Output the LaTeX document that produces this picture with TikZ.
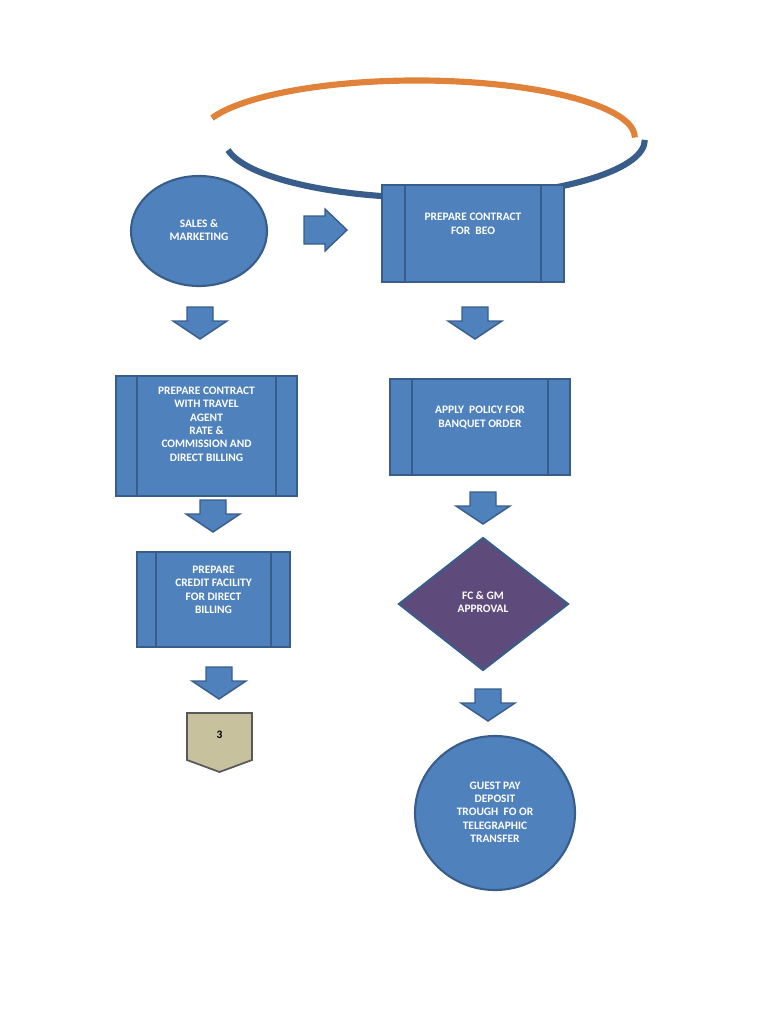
\documentclass[tikz,border=0pt]{standalone}
\usepackage{fontspec}
\setmainfont{Carlito}
\usetikzlibrary{shapes.geometric}
\definecolor{boxblue}{HTML}{4F81BD}
\definecolor{edgeblue}{HTML}{385D8A}
\definecolor{purp}{HTML}{5F4B7B}
\definecolor{tan}{HTML}{C7C19D}
\definecolor{orng}{HTML}{E0823A}
\begin{document}
\begin{tikzpicture}[x=0.02cm,y=-0.02cm]
  \tikzset{
    txt/.style={text=white,font=\fontsize{6.5}{7.6}\selectfont\bfseries,align=center},
    pp/.style={draw=edgeblue,line width=1.2pt,fill=boxblue},
    darr/.style={draw=edgeblue,line width=0.8pt,fill=boxblue},
  }
  \useasboundingbox (0,0) rectangle (768,1024);
  % decorative loop at top
  \begin{scope}
    \clip (150,60) rectangle (650,200);
    \draw[edgeblue,line width=3.5pt] (228,150) arc[start angle=190,end angle=360,x radius=210,y radius=-58];
    \draw[orng,line width=3.5pt] (212,118) arc[start angle=200,end angle=360,x radius=218,y radius=57];
  \end{scope}
  % predefined process boxes
  \newcommand{\ppbox}[6]{%
    \draw[pp] (#1,#2) rectangle (#3,#4);
    \draw[edgeblue,line width=1.2pt] (#1+#5,#2) -- (#1+#5,#4) (#3-#5,#2) -- (#3-#5,#4);
    \node[txt] at ({(#1+#3)/2},{#2+(#4-#2)*0.4}) {#6};}
  \newcommand{\downarr}[2]{%
    \draw[darr] (#1-13,#2) -- (#1+13,#2) -- (#1+13,#2+14) -- (#1+27,#2+14) -- (#1,#2+32)
      -- (#1-27,#2+14) -- (#1-13,#2+14) -- cycle;}
  \draw[pp] (199,231) ellipse (68 and 55);
  \node[txt] (sales) at (199,230) {SALES \&\\MARKETING};
  \draw[darr] (304,216) -- (325,216) -- (325,209) -- (347,230) -- (325,251) -- (325,244) -- (304,244) -- cycle;
  \ppbox{382}{185}{564}{282}{23}{PREPARE CONTRACT\\FOR\ \ BEO}
  \downarr{200}{307}
  \downarr{475}{307}
  \ppbox{116}{376}{297}{496}{21}{PREPARE CONTRACT\\WITH TRAVEL\\AGENT\\RATE \&\\COMMISSION AND\\DIRECT BILLING}
  \ppbox{390}{379}{570}{475}{22}{APPLY\ \ POLICY FOR\\BANQUET ORDER}
  \downarr{213}{500}
  \downarr{483}{492}
  \ppbox{137}{552}{290}{647}{19}{PREPARE\\CREDIT FACILITY\\FOR DIRECT\\BILLING}
  \draw[draw=edgeblue,line width=1.2pt,fill=purp] (483,538) -- (568,604) -- (483,670) -- (399,604) -- cycle;
  \node[txt] (fc) at (483,602) {FC \& GM\\APPROVAL};
  \downarr{219}{667}
  \draw[draw=gray!70!black,line width=1pt,fill=tan] (187,713) -- (252,713) -- (252,760) -- (219.5,772) -- (187,760) -- cycle;
  \node[font=\fontsize{6.5}{7.6}\selectfont\bfseries] (off) at (219.5,735) {3};
  \downarr{488}{689}
  \draw[pp] (495,813) ellipse (80 and 77);
  \node[txt] (guest) at (495,812) {GUEST PAY\\DEPOSIT\\TROUGH\ \ FO OR\\TELEGRAPHIC\\TRANSFER};
\end{tikzpicture}
\end{document}
